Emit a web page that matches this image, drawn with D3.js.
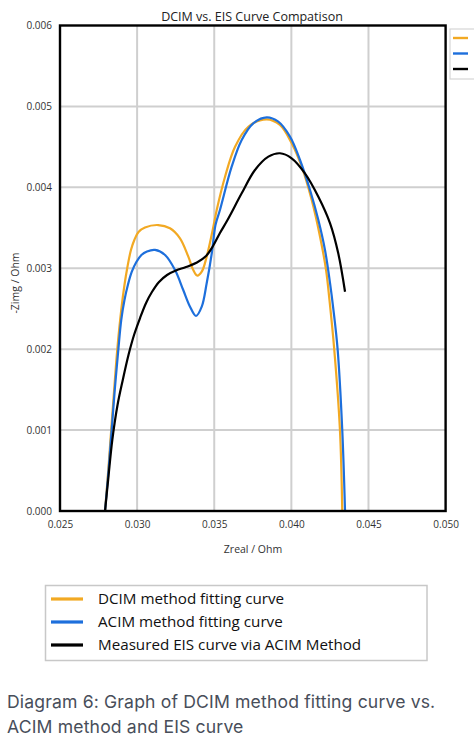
<!DOCTYPE html>
<html>
<head>
<meta charset="utf-8">
<script src="https://cdn.jsdelivr.net/npm/d3@7"></script>
<style>
  body { margin: 0; background: #fff; }
  svg { display: block; }
</style>
</head>
<body>
<svg id="chart" width="474" height="735"></svg>
<script>
// values (Zreal, -Zimg in Ohm)
const dcimZreal = [0.02792, 0.02813, 0.02832, 0.02851, 0.02871, 0.02897, 0.02918, 0.02936, 0.02960, 0.02982, 0.03009, 0.03051, 0.03137, 0.03213, 0.03278, 0.03332, 0.03364, 0.03390, 0.03419, 0.03451, 0.03490, 0.03516, 0.03570, 0.03635, 0.03721, 0.03840, 0.03926, 0.04002, 0.04067, 0.04132, 0.04186, 0.04225, 0.04247, 0.04278, 0.04315, 0.04330];
const dcimZimg  = [0.00000, 0.000507, 0.001001, 0.001495, 0.00199, 0.002484, 0.002793, 0.003003, 0.003226, 0.003349, 0.003448, 0.003504, 0.003534, 0.003494, 0.00337, 0.003143, 0.002978, 0.002908, 0.002957, 0.003143, 0.003473, 0.00372, 0.004131, 0.004502, 0.004749, 0.004841, 0.00477, 0.004544, 0.004255, 0.003843, 0.00339, 0.002978, 0.002608, 0.001998, 0.001001, 0.00000];

const acimZreal = [0.02792, 0.02815, 0.02835, 0.02855, 0.02878, 0.02897, 0.02918, 0.02940, 0.02965, 0.02995, 0.03028, 0.03064, 0.03116, 0.03181, 0.03246, 0.03299, 0.03343, 0.03382, 0.03419, 0.03451, 0.03484, 0.03508, 0.03537, 0.03613, 0.03678, 0.03753, 0.03840, 0.03915, 0.03991, 0.04056, 0.04121, 0.04175, 0.04218, 0.04251, 0.04273, 0.04300, 0.04330, 0.04348];
const acimZimg  = [0.00000, 0.000507, 0.001001, 0.001495, 0.00199, 0.00236, 0.002608, 0.002793, 0.002954, 0.003077, 0.003164, 0.003207, 0.003226, 0.003164, 0.002978, 0.002731, 0.002525, 0.00241, 0.002525, 0.002814, 0.003185, 0.003534, 0.00372, 0.004255, 0.004585, 0.004791, 0.004865, 0.004811, 0.004626, 0.004338, 0.003967, 0.003596, 0.003226, 0.002814, 0.002484, 0.001998, 0.001001, 0.00000];

const eisZreal = [0.02792, 0.02814, 0.02839, 0.02873, 0.02907, 0.02944, 0.02980, 0.03019, 0.03058, 0.03096, 0.03142, 0.03194, 0.03252, 0.03317, 0.03388, 0.03447, 0.03492, 0.03537, 0.03586, 0.03678, 0.03764, 0.03851, 0.03926, 0.04002, 0.04088, 0.04175, 0.04251, 0.04304, 0.04348];
const eisZimg  = [0.00000, 0.00042, 0.000877, 0.00131, 0.001619, 0.001928, 0.002175, 0.002385, 0.002571, 0.002706, 0.00283, 0.002917, 0.002972, 0.003015, 0.003071, 0.003151, 0.003275, 0.003436, 0.003596, 0.003926, 0.004214, 0.004379, 0.004421, 0.004359, 0.004173, 0.003884, 0.003555, 0.003185, 0.00271];

const xTicks = [0.025, 0.030, 0.035, 0.040, 0.045, 0.050];
const yTicks = [0.000, 0.001, 0.002, 0.003, 0.004, 0.005, 0.006];

const seriesNames = ["DCIM method fitting curve", "ACIM method fitting curve", "Measured EIS curve via ACIM Method"];
const seriesColors = ["#f2a923", "#1d6fdc", "#000000"];

const chartTitle = "DCIM vs. EIS Curve Compatison";
const xTitle = "Zreal / Ohm";
const yTitle = "-Zimg / Ohm";
const captionLines = ["Diagram 6: Graph of DCIM method fitting curve vs.", "ACIM method and EIS curve"];

const series = [
  { name: seriesNames[0], color: seriesColors[0], pts: dcimZreal.map((v, i) => ({ zr: v, zi: dcimZimg[i] })) },
  { name: seriesNames[1], color: seriesColors[1], pts: acimZreal.map((v, i) => ({ zr: v, zi: acimZimg[i] })) },
  { name: seriesNames[2], color: seriesColors[2], pts: eisZreal.map((v, i) => ({ zr: v, zi: eisZimg[i] })) }
];

const svg = d3.select("#chart");
const font = "'Open Sans', sans-serif";

const plot = { left: 60, right: 445.6, top: 25.5, bottom: 511 };

const x = d3.scaleLinear().domain([0.025, 0.050]).range([plot.left, plot.right]);
const y = d3.scaleLinear().domain([0, 0.006]).range([plot.bottom, plot.top]);

// grid
const grid = svg.append("g").attr("stroke", "#cfcfcf").attr("stroke-width", 2);
grid.selectAll(".vg")
  .data(xTicks.slice(1, -1))
  .join("line")
  .attr("x1", d => x(d)).attr("x2", d => x(d))
  .attr("y1", plot.top).attr("y2", plot.bottom);
grid.selectAll(".hg")
  .data(yTicks.slice(1, -1))
  .join("line")
  .attr("x1", plot.left).attr("x2", plot.right)
  .attr("y1", d => y(d)).attr("y2", d => y(d));

// curves
const line = d3.line()
  .x(d => x(d.zr))
  .y(d => y(d.zi))
  .curve(d3.curveCatmullRom.alpha(0.5));

svg.append("g")
  .selectAll("path")
  .data(series)
  .join("path")
  .attr("fill", "none")
  .attr("stroke", d => d.color)
  .attr("stroke-width", 2.2)
  .attr("stroke-linejoin", "round")
  .attr("d", d => line(d.pts));

// frame
svg.append("rect")
  .attr("x", plot.left).attr("y", plot.top)
  .attr("width", plot.right - plot.left)
  .attr("height", plot.bottom - plot.top)
  .attr("fill", "none")
  .attr("stroke", "#000")
  .attr("stroke-width", 2.4);

// axes
const fmt = d3.format(".3f");
const xAxis = svg.append("g")
  .attr("transform", `translate(0,${plot.bottom})`)
  .call(d3.axisBottom(x).tickValues(xTicks).tickFormat(fmt).tickSize(0).tickPadding(10));
const yAxis = svg.append("g")
  .attr("transform", `translate(${plot.left},0)`)
  .call(d3.axisLeft(y).tickValues(yTicks).tickFormat(fmt).tickSize(0).tickPadding(8));
[xAxis, yAxis].forEach(a => {
  a.select(".domain").remove();
  a.selectAll("text").attr("font-family", font).attr("font-size", 10).attr("fill", "#333");
});

// titles
svg.append("text")
  .attr("x", 252).attr("y", 21)
  .attr("text-anchor", "middle")
  .attr("font-family", font).attr("font-size", 12.5).attr("fill", "#222")
  .text(chartTitle);

svg.append("text")
  .attr("x", 253).attr("y", 553)
  .attr("text-anchor", "middle")
  .attr("font-family", font).attr("font-size", 10.5).attr("fill", "#333")
  .text(xTitle);

svg.append("text")
  .attr("transform", "translate(19,283) rotate(-90)")
  .attr("text-anchor", "middle")
  .attr("font-family", font).attr("font-size", 10.5).attr("fill", "#333")
  .text(yTitle);

// clipped legend at top right
const topLegend = svg.append("g");
topLegend.append("rect")
  .attr("x", 450).attr("y", 29).attr("width", 40).attr("height", 50)
  .attr("fill", "#fff").attr("stroke", "#d6d6d6").attr("stroke-width", 1.2);
topLegend.selectAll("line")
  .data(series)
  .join("line")
  .attr("x1", 453).attr("x2", 468)
  .attr("y1", (d, i) => 38 + i * 15.5).attr("y2", (d, i) => 38 + i * 15.5)
  .attr("stroke", d => d.color).attr("stroke-width", 2.4);

// bottom legend
const legend = svg.append("g");
legend.append("rect")
  .attr("x", 45.5).attr("y", 585.5).attr("width", 381.5).attr("height", 75)
  .attr("fill", "#fff").attr("stroke", "#c8c8c8").attr("stroke-width", 1.5);
const items = legend.selectAll(".item")
  .data(series)
  .join("g")
  .attr("transform", (d, i) => `translate(0,${599 + i * 23})`);
items.append("line")
  .attr("x1", 51).attr("x2", 83)
  .attr("stroke", d => d.color).attr("stroke-width", 3.2);
items.append("text")
  .attr("x", 98).attr("dy", "0.35em")
  .attr("font-family", font).attr("font-size", 15.2).attr("font-weight", 500)
  .attr("fill", "#111")
  .text(d => d.name);

// caption
svg.append("g")
  .selectAll("text")
  .data(captionLines)
  .join("text")
  .attr("x", 7).attr("y", (d, i) => 708 + i * 24.5)
  .attr("font-family", "Inter, sans-serif").attr("font-size", 17.6)
  .attr("letter-spacing", 0.15)
  .attr("fill", "#484e5a")
  .text(d => d);
</script>
</body>
</html>
